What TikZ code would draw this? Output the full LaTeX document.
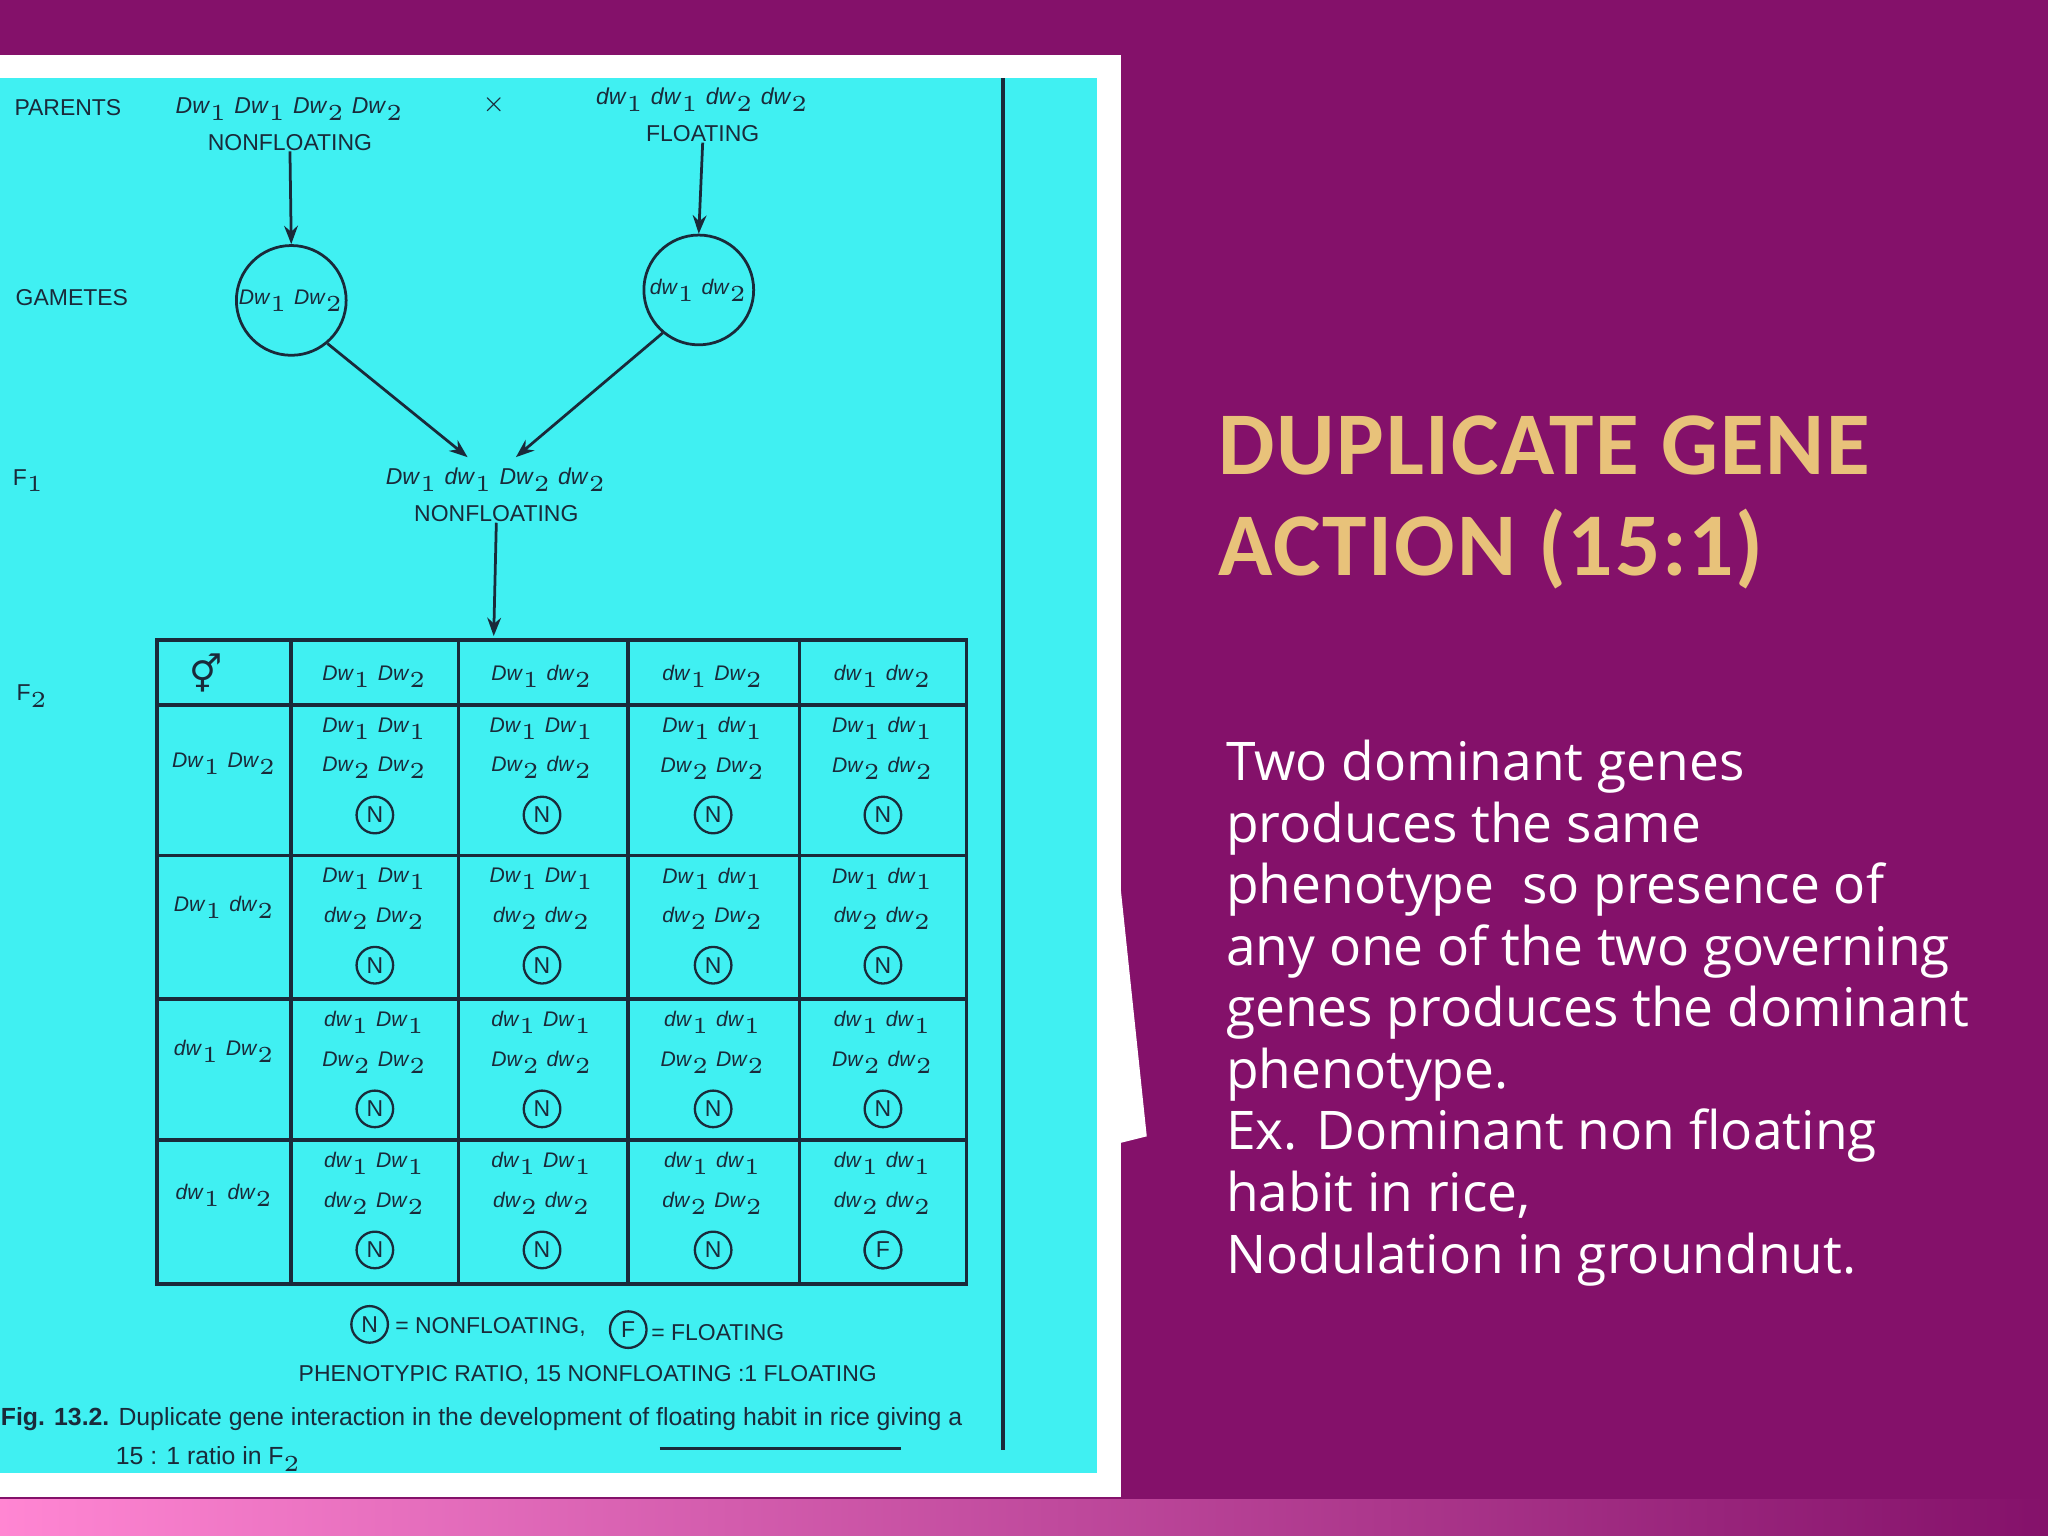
\documentclass[tikz,border=0pt]{standalone}
\usetikzlibrary{arrows.meta}
\usepackage{fontspec}
\setmainfont{Liberation Sans}
\newfontfamily\bodyfont{Open Sans}
\newfontfamily\titlefont{Carlito}
\newfontfamily\symfont{DejaVu Sans}
\definecolor{bgpurple}{HTML}{84116A}
\definecolor{cyanp}{HTML}{40F0F2}
\definecolor{gold}{HTML}{E8C27A}
\definecolor{inkc}{HTML}{1A2A3A}
\newcommand{\gD}[1]{\textit{Dw}$_{#1}$}
\newcommand{\gd}[1]{\textit{dw}$_{#1}$}
\tikzset{
  lab/.style={font=\fontsize{5}{6}\selectfont, text=inkc, inner sep=0pt, align=center},
  gen/.style={font=\fontsize{4.6}{5.6}\selectfont, text=inkc, inner sep=0pt, align=center},
  circ/.style={draw=inkc, circle, line width=0.5pt, minimum size=0.28cm, inner sep=0pt, font=\fontsize{5}{5}\selectfont, text=inkc},
  gam/.style={draw=inkc, circle, line width=0.6pt, minimum size=0.84cm, inner sep=0pt},
  arr/.style={draw=inkc, line width=0.6pt, -{Stealth[length=4pt,width=3pt]}},
  grid/.style={draw=inkc, line width=0.8pt}
}
\begin{document}
\begin{tikzpicture}[x=0.01cm,y=-0.01cm]
\useasboundingbox (0,0) rectangle (1568,1176);
\fill[bgpurple] (0,0) rectangle (1568,1176);
\shade[left color=pink!70!magenta, right color=bgpurple] (0,1148) rectangle (1568,1176);
\fill[white] (0,42) rectangle (858,1146);
\fill[white] (858,680) -- (878,870) -- (858,875) -- cycle;
\fill[cyanp] (0,60) rectangle (840,1128);
\draw[inkc, line width=0.8pt] (768,60) -- (768,1110);
% title
\node[anchor=west, text=gold, font=\titlefont\bfseries\fontsize{19.5}{23}\selectfont, align=left, inner sep=0pt] (title) at (932,385) {\addfontfeature{LetterSpace=2}DUPLICATE GENE\\[-1pt]\addfontfeature{LetterSpace=2}ACTION (15:1)};
\node[anchor=north west, text=white, font=\bodyfont\fontsize{11.6}{13.4}\selectfont, align=left, inner sep=0pt] (body) at (938,566) {Two dominant genes\\produces the same\\phenotype \ so presence of\\any one of the two governing\\genes produces the dominant\\phenotype.\\Ex. Dominant non floating\\habit in rice,\\Nodulation in groundnut.};
% parents
\node[lab] (parents) at (52,82) {PARENTS};
\node[lab] (p1) at (222,95) {\gD1 \gD1 \gD2 \gD2\\[2pt]NONFLOATING};
\node[lab] (cross) at (378,80) {$\times$};
\node[lab] (p2) at (538,88) {\gd1 \gd1 \gd2 \gd2\\[2pt]FLOATING};
\node[lab] (gametes) at (55,228) {GAMETES};
\node[gam] (g1) at (223,230) {};
\node[gen] at (g1) {\gD1 \gD2};
\node[gam] (g2) at (535,222) {};
\node[gen] at (g2) {\gd1 \gd2};
\draw[arr] (p1.south) -- (g1.north);
\draw[arr] (p2.south) -- (g2.north);
\node[lab] (f1lab) at (22,368) {F$_1$};
\node[lab] (f1) at (380,379) {\gD1 \gd1 \gD2 \gd2\\[2pt]NONFLOATING};
\draw[arr] (g1.-50) -- (358,350);
\draw[arr] (g2.-130) -- (395,350);
\coordinate (tabtop) at (378,487);
\draw[arr] (f1.south) -- (tabtop);
\node[lab] (f2lab) at (25,533) {F$_2$};
% table
\draw[grid] (120,490) rectangle (740,983);
\foreach \x in {223,351,481,612} \draw[grid] (\x,490) -- (\x,983);
\foreach \y in {540,655,765,873} \draw[grid] (120,\y) -- (740,\y);
\node[lab, font=\symfont\fontsize{8}{8}\selectfont] (sex) at (158,515) {⚥};
\foreach \c/\cx/\a/\b in {1/287/D/D,2/415/D/d,3/546/d/D,4/676/d/d}{
  \node[gen] (ch\c) at (\cx,518) {\csname g\a\endcsname1 \csname g\b\endcsname2};
}
\foreach \r/\ry/\a/\b in {1/585/D/D,2/695/D/d,3/805/d/D,4/915/d/d}{
  \node[gen] (rh\r) at (172,\ry) {\csname g\a\endcsname1 \csname g\b\endcsname2};
}
\foreach \r/\ry/\ra/\rb in {1/540/D/D,2/655/D/d,3/765/d/D,4/873/d/d}{
  \foreach \c/\cx/\ca/\cb in {1/287/D/D,2/415/D/d,3/546/d/D,4/676/d/d}{
    \node[gen] (t\r\c) at (\cx,\ry+33) {\csname g\ra\endcsname1 \csname g\ca\endcsname1\\[3pt]\csname g\rb\endcsname2 \csname g\cb\endcsname2};
    \node[circ] (c\r\c) at (\cx,\ry+84) {N};
  }
}
\node[fill=cyanp, circ] at (c44) {F};
% legend
\node[circ] (ln) at (283,1014) {N};
\node[lab, anchor=west] (lnt) at (302,1016) {= NONFLOATING,};
\node[circ] (lf) at (481,1018) {F};
\node[lab, anchor=west] (lft) at (498,1020) {= FLOATING};
\node[lab] (ratio) at (450,1053) {PHENOTYPIC RATIO, 15 NONFLOATING :1 FLOATING};
\node[lab, anchor=west, align=left, font=\fontsize{5.4}{6.4}\selectfont] (cap) at (0,1102) {\textbf{Fig. 13.2.} Duplicate gene interaction in the development of floating habit in rice giving a\\[2pt]\hspace{0.88cm}15 : 1 ratio in F$_2$};
\draw[inkc, line width=0.5pt] (505,1109) -- (690,1109);
\end{tikzpicture}
\end{document}
